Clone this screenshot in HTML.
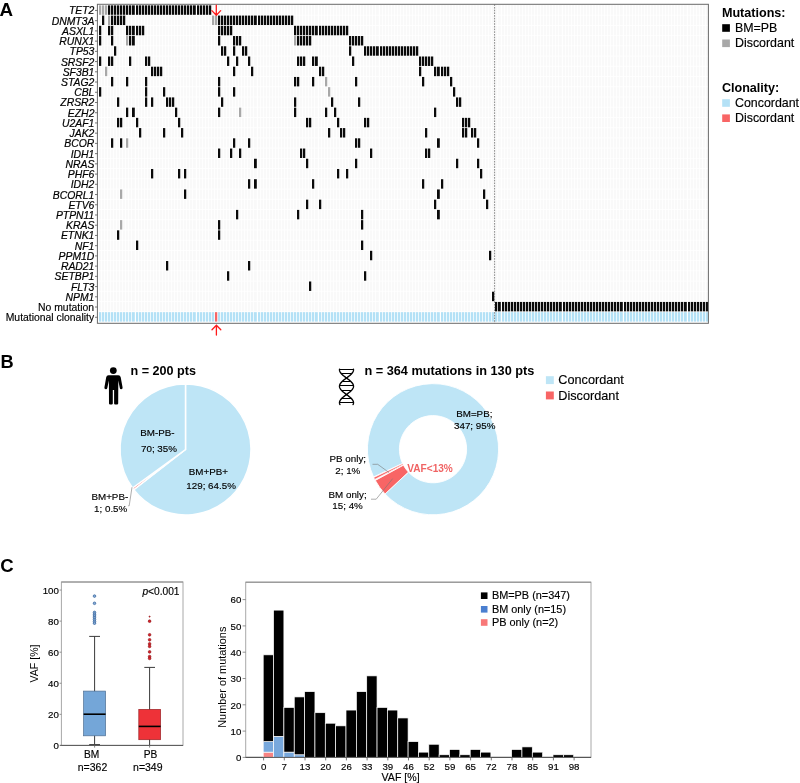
<!DOCTYPE html>
<html><head><meta charset="utf-8"><title>Figure</title>
<style>
html,body{margin:0;padding:0;background:#fff;}
svg{display:block;}
text{font-family:"Liberation Sans", Arial, Helvetica, sans-serif;}
</style></head>
<body>
<svg width="800" height="783" viewBox="0 0 800 783" font-family='"Liberation Sans", Arial, Helvetica, sans-serif' fill="#000">
<rect width="800" height="783" fill="#fff"/>
<text x="-0.4" y="15.7" font-size="18.8" font-weight="bold">A</text>
<g fill="#f9f9f9">
</g>
<rect x="97.4" y="4.3" width="611" height="319" fill="#ffffff"/>
<g fill="#f9f9f9">
<rect x="99" y="4.8" width="2.25" height="307.36"/>
<rect x="102" y="4.8" width="2.25" height="307.36"/>
<rect x="105" y="4.8" width="2.25" height="307.36"/>
<rect x="108" y="4.8" width="2.25" height="307.36"/>
<rect x="111" y="4.8" width="2.25" height="307.36"/>
<rect x="114" y="4.8" width="2.25" height="307.36"/>
<rect x="117" y="4.8" width="2.25" height="307.36"/>
<rect x="120" y="4.8" width="2.25" height="307.36"/>
<rect x="123" y="4.8" width="2.25" height="307.36"/>
<rect x="126" y="4.8" width="2.25" height="307.36"/>
<rect x="129" y="4.8" width="2.25" height="307.36"/>
<rect x="132" y="4.8" width="2.8" height="307.36"/>
<rect x="136" y="4.8" width="2.25" height="307.36"/>
<rect x="139" y="4.8" width="2.25" height="307.36"/>
<rect x="142" y="4.8" width="2.25" height="307.36"/>
<rect x="145" y="4.8" width="2.25" height="307.36"/>
<rect x="148" y="4.8" width="2.25" height="307.36"/>
<rect x="151" y="4.8" width="2.25" height="307.36"/>
<rect x="154" y="4.8" width="2.25" height="307.36"/>
<rect x="157" y="4.8" width="2.25" height="307.36"/>
<rect x="160" y="4.8" width="2.25" height="307.36"/>
<rect x="163" y="4.8" width="2.25" height="307.36"/>
<rect x="166" y="4.8" width="2.25" height="307.36"/>
<rect x="169" y="4.8" width="2.25" height="307.36"/>
<rect x="172" y="4.8" width="2.25" height="307.36"/>
<rect x="175" y="4.8" width="2.25" height="307.36"/>
<rect x="178" y="4.8" width="2.25" height="307.36"/>
<rect x="181" y="4.8" width="2.25" height="307.36"/>
<rect x="184" y="4.8" width="2.25" height="307.36"/>
<rect x="187" y="4.8" width="2.25" height="307.36"/>
<rect x="190" y="4.8" width="2.25" height="307.36"/>
<rect x="193" y="4.8" width="2.8" height="307.36"/>
<rect x="197" y="4.8" width="2.25" height="307.36"/>
<rect x="200" y="4.8" width="2.25" height="307.36"/>
<rect x="203" y="4.8" width="2.25" height="307.36"/>
<rect x="206" y="4.8" width="2.25" height="307.36"/>
<rect x="209" y="4.8" width="2.25" height="307.36"/>
<rect x="212" y="4.8" width="2.25" height="307.36"/>
<rect x="215" y="4.8" width="2.25" height="307.36"/>
<rect x="218" y="4.8" width="2.25" height="307.36"/>
<rect x="221" y="4.8" width="2.25" height="307.36"/>
<rect x="224" y="4.8" width="2.25" height="307.36"/>
<rect x="227" y="4.8" width="2.25" height="307.36"/>
<rect x="230" y="4.8" width="2.25" height="307.36"/>
<rect x="233" y="4.8" width="2.25" height="307.36"/>
<rect x="236" y="4.8" width="2.25" height="307.36"/>
<rect x="239" y="4.8" width="2.25" height="307.36"/>
<rect x="242" y="4.8" width="2.25" height="307.36"/>
<rect x="245" y="4.8" width="2.25" height="307.36"/>
<rect x="248" y="4.8" width="2.25" height="307.36"/>
<rect x="251" y="4.8" width="2.25" height="307.36"/>
<rect x="254" y="4.8" width="2.8" height="307.36"/>
<rect x="258" y="4.8" width="2.25" height="307.36"/>
<rect x="261" y="4.8" width="2.25" height="307.36"/>
<rect x="264" y="4.8" width="2.25" height="307.36"/>
<rect x="267" y="4.8" width="2.25" height="307.36"/>
<rect x="270" y="4.8" width="2.25" height="307.36"/>
<rect x="273" y="4.8" width="2.25" height="307.36"/>
<rect x="276" y="4.8" width="2.25" height="307.36"/>
<rect x="279" y="4.8" width="2.25" height="307.36"/>
<rect x="282" y="4.8" width="2.25" height="307.36"/>
<rect x="285" y="4.8" width="2.25" height="307.36"/>
<rect x="288" y="4.8" width="2.25" height="307.36"/>
<rect x="291" y="4.8" width="2.25" height="307.36"/>
<rect x="294" y="4.8" width="2.25" height="307.36"/>
<rect x="297" y="4.8" width="2.25" height="307.36"/>
<rect x="300" y="4.8" width="2.25" height="307.36"/>
<rect x="303" y="4.8" width="2.25" height="307.36"/>
<rect x="306" y="4.8" width="2.25" height="307.36"/>
<rect x="309" y="4.8" width="2.25" height="307.36"/>
<rect x="312" y="4.8" width="2.25" height="307.36"/>
<rect x="315" y="4.8" width="2.8" height="307.36"/>
<rect x="319" y="4.8" width="2.25" height="307.36"/>
<rect x="322" y="4.8" width="2.25" height="307.36"/>
<rect x="325" y="4.8" width="2.25" height="307.36"/>
<rect x="328" y="4.8" width="2.25" height="307.36"/>
<rect x="331" y="4.8" width="2.25" height="307.36"/>
<rect x="334" y="4.8" width="2.25" height="307.36"/>
<rect x="337" y="4.8" width="2.25" height="307.36"/>
<rect x="340" y="4.8" width="2.25" height="307.36"/>
<rect x="343" y="4.8" width="2.25" height="307.36"/>
<rect x="346" y="4.8" width="2.25" height="307.36"/>
<rect x="349" y="4.8" width="2.25" height="307.36"/>
<rect x="352" y="4.8" width="2.25" height="307.36"/>
<rect x="355" y="4.8" width="2.25" height="307.36"/>
<rect x="358" y="4.8" width="2.25" height="307.36"/>
<rect x="361" y="4.8" width="2.25" height="307.36"/>
<rect x="364" y="4.8" width="2.25" height="307.36"/>
<rect x="367" y="4.8" width="2.25" height="307.36"/>
<rect x="370" y="4.8" width="2.25" height="307.36"/>
<rect x="373" y="4.8" width="2.25" height="307.36"/>
<rect x="376" y="4.8" width="2.8" height="307.36"/>
<rect x="380" y="4.8" width="2.25" height="307.36"/>
<rect x="383" y="4.8" width="2.25" height="307.36"/>
<rect x="386" y="4.8" width="2.25" height="307.36"/>
<rect x="389" y="4.8" width="2.25" height="307.36"/>
<rect x="392" y="4.8" width="2.25" height="307.36"/>
<rect x="395" y="4.8" width="2.25" height="307.36"/>
<rect x="398" y="4.8" width="2.25" height="307.36"/>
<rect x="401" y="4.8" width="2.25" height="307.36"/>
<rect x="404" y="4.8" width="2.25" height="307.36"/>
<rect x="407" y="4.8" width="2.25" height="307.36"/>
<rect x="410" y="4.8" width="2.25" height="307.36"/>
<rect x="413" y="4.8" width="2.25" height="307.36"/>
<rect x="416" y="4.8" width="2.25" height="307.36"/>
<rect x="419" y="4.8" width="2.25" height="307.36"/>
<rect x="422" y="4.8" width="2.25" height="307.36"/>
<rect x="425" y="4.8" width="2.25" height="307.36"/>
<rect x="428" y="4.8" width="2.25" height="307.36"/>
<rect x="431" y="4.8" width="2.25" height="307.36"/>
<rect x="434" y="4.8" width="2.25" height="307.36"/>
<rect x="437" y="4.8" width="2.8" height="307.36"/>
<rect x="441" y="4.8" width="2.25" height="307.36"/>
<rect x="444" y="4.8" width="2.25" height="307.36"/>
<rect x="447" y="4.8" width="2.25" height="307.36"/>
<rect x="450" y="4.8" width="2.25" height="307.36"/>
<rect x="453" y="4.8" width="2.25" height="307.36"/>
<rect x="456" y="4.8" width="2.25" height="307.36"/>
<rect x="459" y="4.8" width="2.25" height="307.36"/>
<rect x="462" y="4.8" width="2.25" height="307.36"/>
<rect x="465" y="4.8" width="2.25" height="307.36"/>
<rect x="468" y="4.8" width="2.25" height="307.36"/>
<rect x="471" y="4.8" width="2.25" height="307.36"/>
<rect x="474" y="4.8" width="2.25" height="307.36"/>
<rect x="477" y="4.8" width="2.25" height="307.36"/>
<rect x="480" y="4.8" width="2.25" height="307.36"/>
<rect x="483" y="4.8" width="2.25" height="307.36"/>
<rect x="486" y="4.8" width="2.25" height="307.36"/>
<rect x="489" y="4.8" width="2.25" height="307.36"/>
<rect x="492" y="4.8" width="2.25" height="307.36"/>
<rect x="495" y="4.8" width="2.25" height="307.36"/>
<rect x="498" y="4.8" width="2.8" height="307.36"/>
<rect x="502" y="4.8" width="2.25" height="307.36"/>
<rect x="505" y="4.8" width="2.25" height="307.36"/>
<rect x="508" y="4.8" width="2.25" height="307.36"/>
<rect x="511" y="4.8" width="2.25" height="307.36"/>
<rect x="514" y="4.8" width="2.25" height="307.36"/>
<rect x="517" y="4.8" width="2.25" height="307.36"/>
<rect x="520" y="4.8" width="2.25" height="307.36"/>
<rect x="523" y="4.8" width="2.25" height="307.36"/>
<rect x="526" y="4.8" width="2.25" height="307.36"/>
<rect x="529" y="4.8" width="2.25" height="307.36"/>
<rect x="532" y="4.8" width="2.25" height="307.36"/>
<rect x="535" y="4.8" width="2.25" height="307.36"/>
<rect x="538" y="4.8" width="2.25" height="307.36"/>
<rect x="541" y="4.8" width="2.25" height="307.36"/>
<rect x="544" y="4.8" width="2.25" height="307.36"/>
<rect x="547" y="4.8" width="2.25" height="307.36"/>
<rect x="550" y="4.8" width="2.25" height="307.36"/>
<rect x="553" y="4.8" width="2.25" height="307.36"/>
<rect x="556" y="4.8" width="2.25" height="307.36"/>
<rect x="559" y="4.8" width="2.8" height="307.36"/>
<rect x="563" y="4.8" width="2.25" height="307.36"/>
<rect x="566" y="4.8" width="2.25" height="307.36"/>
<rect x="569" y="4.8" width="2.25" height="307.36"/>
<rect x="572" y="4.8" width="2.25" height="307.36"/>
<rect x="575" y="4.8" width="2.25" height="307.36"/>
<rect x="578" y="4.8" width="2.25" height="307.36"/>
<rect x="581" y="4.8" width="2.25" height="307.36"/>
<rect x="584" y="4.8" width="2.25" height="307.36"/>
<rect x="587" y="4.8" width="2.25" height="307.36"/>
<rect x="590" y="4.8" width="2.25" height="307.36"/>
<rect x="593" y="4.8" width="2.25" height="307.36"/>
<rect x="596" y="4.8" width="2.25" height="307.36"/>
<rect x="599" y="4.8" width="2.25" height="307.36"/>
<rect x="602" y="4.8" width="2.25" height="307.36"/>
<rect x="605" y="4.8" width="2.25" height="307.36"/>
<rect x="608" y="4.8" width="2.25" height="307.36"/>
<rect x="611" y="4.8" width="2.25" height="307.36"/>
<rect x="614" y="4.8" width="2.25" height="307.36"/>
<rect x="617" y="4.8" width="2.25" height="307.36"/>
<rect x="620" y="4.8" width="2.8" height="307.36"/>
<rect x="624" y="4.8" width="2.25" height="307.36"/>
<rect x="627" y="4.8" width="2.25" height="307.36"/>
<rect x="630" y="4.8" width="2.25" height="307.36"/>
<rect x="633" y="4.8" width="2.25" height="307.36"/>
<rect x="636" y="4.8" width="2.25" height="307.36"/>
<rect x="639" y="4.8" width="2.25" height="307.36"/>
<rect x="642" y="4.8" width="2.25" height="307.36"/>
<rect x="645" y="4.8" width="2.25" height="307.36"/>
<rect x="648" y="4.8" width="2.25" height="307.36"/>
<rect x="651" y="4.8" width="2.25" height="307.36"/>
<rect x="654" y="4.8" width="2.25" height="307.36"/>
<rect x="657" y="4.8" width="2.25" height="307.36"/>
<rect x="660" y="4.8" width="2.25" height="307.36"/>
<rect x="663" y="4.8" width="2.25" height="307.36"/>
<rect x="666" y="4.8" width="2.25" height="307.36"/>
<rect x="669" y="4.8" width="2.25" height="307.36"/>
<rect x="672" y="4.8" width="2.25" height="307.36"/>
<rect x="675" y="4.8" width="2.25" height="307.36"/>
<rect x="678" y="4.8" width="2.25" height="307.36"/>
<rect x="681" y="4.8" width="2.25" height="307.36"/>
<rect x="684" y="4.8" width="2.8" height="307.36"/>
<rect x="688" y="4.8" width="2.25" height="307.36"/>
<rect x="691" y="4.8" width="2.25" height="307.36"/>
<rect x="694" y="4.8" width="2.25" height="307.36"/>
<rect x="697" y="4.8" width="2.25" height="307.36"/>
<rect x="700" y="4.8" width="2.25" height="307.36"/>
<rect x="703" y="4.8" width="2.25" height="307.36"/>
<rect x="706" y="4.8" width="2.25" height="307.36"/>
</g>
<g stroke="#fff" stroke-width="0.8">
<line x1="97.4" y1="15.19" x2="708.4" y2="15.19"/>
<line x1="97.4" y1="25.42" x2="708.4" y2="25.42"/>
<line x1="97.4" y1="35.64" x2="708.4" y2="35.64"/>
<line x1="97.4" y1="45.87" x2="708.4" y2="45.87"/>
<line x1="97.4" y1="56.1" x2="708.4" y2="56.1"/>
<line x1="97.4" y1="66.32" x2="708.4" y2="66.32"/>
<line x1="97.4" y1="76.55" x2="708.4" y2="76.55"/>
<line x1="97.4" y1="86.78" x2="708.4" y2="86.78"/>
<line x1="97.4" y1="97" x2="708.4" y2="97"/>
<line x1="97.4" y1="107.23" x2="708.4" y2="107.23"/>
<line x1="97.4" y1="117.46" x2="708.4" y2="117.46"/>
<line x1="97.4" y1="127.69" x2="708.4" y2="127.69"/>
<line x1="97.4" y1="137.91" x2="708.4" y2="137.91"/>
<line x1="97.4" y1="148.14" x2="708.4" y2="148.14"/>
<line x1="97.4" y1="158.37" x2="708.4" y2="158.37"/>
<line x1="97.4" y1="168.59" x2="708.4" y2="168.59"/>
<line x1="97.4" y1="178.82" x2="708.4" y2="178.82"/>
<line x1="97.4" y1="189.05" x2="708.4" y2="189.05"/>
<line x1="97.4" y1="199.27" x2="708.4" y2="199.27"/>
<line x1="97.4" y1="209.5" x2="708.4" y2="209.5"/>
<line x1="97.4" y1="219.73" x2="708.4" y2="219.73"/>
<line x1="97.4" y1="229.96" x2="708.4" y2="229.96"/>
<line x1="97.4" y1="240.18" x2="708.4" y2="240.18"/>
<line x1="97.4" y1="250.41" x2="708.4" y2="250.41"/>
<line x1="97.4" y1="260.64" x2="708.4" y2="260.64"/>
<line x1="97.4" y1="270.86" x2="708.4" y2="270.86"/>
<line x1="97.4" y1="281.09" x2="708.4" y2="281.09"/>
<line x1="97.4" y1="291.32" x2="708.4" y2="291.32"/>
<line x1="97.4" y1="301.54" x2="708.4" y2="301.54"/>
<line x1="97.4" y1="311.77" x2="708.4" y2="311.77"/>
</g>
<g fill="#a8a8a8">
<rect x="99" y="5.35" width="2.25" height="9.45"/>
<rect x="102" y="5.35" width="2.25" height="9.45"/>
<rect x="105" y="5.35" width="2.25" height="9.45"/>
</g>
<g fill="#0a0a0a">
<rect x="108" y="5.35" width="2.25" height="9.45"/>
<rect x="111" y="5.35" width="2.25" height="9.45"/>
<rect x="114" y="5.35" width="2.25" height="9.45"/>
<rect x="117" y="5.35" width="2.25" height="9.45"/>
<rect x="120" y="5.35" width="2.25" height="9.45"/>
<rect x="123" y="5.35" width="2.25" height="9.45"/>
<rect x="126" y="5.35" width="2.25" height="9.45"/>
<rect x="129" y="5.35" width="2.25" height="9.45"/>
<rect x="132" y="5.35" width="2.8" height="9.45"/>
<rect x="136" y="5.35" width="2.25" height="9.45"/>
<rect x="139" y="5.35" width="2.25" height="9.45"/>
<rect x="142" y="5.35" width="2.25" height="9.45"/>
<rect x="145" y="5.35" width="2.25" height="9.45"/>
<rect x="148" y="5.35" width="2.25" height="9.45"/>
<rect x="151" y="5.35" width="2.25" height="9.45"/>
<rect x="154" y="5.35" width="2.25" height="9.45"/>
<rect x="157" y="5.35" width="2.25" height="9.45"/>
<rect x="160" y="5.35" width="2.25" height="9.45"/>
<rect x="163" y="5.35" width="2.25" height="9.45"/>
<rect x="166" y="5.35" width="2.25" height="9.45"/>
<rect x="169" y="5.35" width="2.25" height="9.45"/>
<rect x="172" y="5.35" width="2.25" height="9.45"/>
<rect x="175" y="5.35" width="2.25" height="9.45"/>
<rect x="178" y="5.35" width="2.25" height="9.45"/>
<rect x="181" y="5.35" width="2.25" height="9.45"/>
<rect x="184" y="5.35" width="2.25" height="9.45"/>
<rect x="187" y="5.35" width="2.25" height="9.45"/>
<rect x="190" y="5.35" width="2.25" height="9.45"/>
<rect x="193" y="5.35" width="2.8" height="9.45"/>
<rect x="197" y="5.35" width="2.25" height="9.45"/>
<rect x="200" y="5.35" width="2.25" height="9.45"/>
<rect x="203" y="5.35" width="2.25" height="9.45"/>
<rect x="206" y="5.35" width="2.25" height="9.45"/>
<rect x="209" y="5.35" width="2.25" height="9.45"/>
</g>
<g fill="#a8a8a8">
<rect x="108" y="15.58" width="2.25" height="9.45"/>
<rect x="212" y="15.58" width="2.25" height="9.45"/>
<rect x="215" y="15.58" width="2.25" height="9.45"/>
</g>
<g fill="#0a0a0a">
<rect x="102" y="15.58" width="2.25" height="9.45"/>
<rect x="111" y="15.58" width="2.25" height="9.45"/>
<rect x="114" y="15.58" width="2.25" height="9.45"/>
<rect x="117" y="15.58" width="2.25" height="9.45"/>
<rect x="120" y="15.58" width="2.25" height="9.45"/>
<rect x="123" y="15.58" width="2.25" height="9.45"/>
<rect x="218" y="15.58" width="2.25" height="9.45"/>
<rect x="221" y="15.58" width="2.25" height="9.45"/>
<rect x="224" y="15.58" width="2.25" height="9.45"/>
<rect x="227" y="15.58" width="2.25" height="9.45"/>
<rect x="230" y="15.58" width="2.25" height="9.45"/>
<rect x="233" y="15.58" width="2.25" height="9.45"/>
<rect x="236" y="15.58" width="2.25" height="9.45"/>
<rect x="239" y="15.58" width="2.25" height="9.45"/>
<rect x="242" y="15.58" width="2.25" height="9.45"/>
<rect x="245" y="15.58" width="2.25" height="9.45"/>
<rect x="248" y="15.58" width="2.25" height="9.45"/>
<rect x="251" y="15.58" width="2.25" height="9.45"/>
<rect x="254" y="15.58" width="2.8" height="9.45"/>
<rect x="258" y="15.58" width="2.25" height="9.45"/>
<rect x="261" y="15.58" width="2.25" height="9.45"/>
<rect x="264" y="15.58" width="2.25" height="9.45"/>
<rect x="267" y="15.58" width="2.25" height="9.45"/>
<rect x="270" y="15.58" width="2.25" height="9.45"/>
<rect x="273" y="15.58" width="2.25" height="9.45"/>
<rect x="276" y="15.58" width="2.25" height="9.45"/>
<rect x="279" y="15.58" width="2.25" height="9.45"/>
<rect x="282" y="15.58" width="2.25" height="9.45"/>
<rect x="285" y="15.58" width="2.25" height="9.45"/>
<rect x="288" y="15.58" width="2.25" height="9.45"/>
<rect x="291" y="15.58" width="2.25" height="9.45"/>
</g>
<g fill="#0a0a0a">
<rect x="99" y="25.8" width="2.25" height="9.45"/>
<rect x="108" y="25.8" width="2.25" height="9.45"/>
<rect x="111" y="25.8" width="2.25" height="9.45"/>
<rect x="126" y="25.8" width="2.25" height="9.45"/>
<rect x="129" y="25.8" width="2.25" height="9.45"/>
<rect x="132" y="25.8" width="2.8" height="9.45"/>
<rect x="136" y="25.8" width="2.25" height="9.45"/>
<rect x="139" y="25.8" width="2.25" height="9.45"/>
<rect x="142" y="25.8" width="2.25" height="9.45"/>
<rect x="218" y="25.8" width="2.25" height="9.45"/>
<rect x="221" y="25.8" width="2.25" height="9.45"/>
<rect x="224" y="25.8" width="2.25" height="9.45"/>
<rect x="227" y="25.8" width="2.25" height="9.45"/>
<rect x="230" y="25.8" width="2.25" height="9.45"/>
<rect x="294" y="25.8" width="2.25" height="9.45"/>
<rect x="297" y="25.8" width="2.25" height="9.45"/>
<rect x="300" y="25.8" width="2.25" height="9.45"/>
<rect x="303" y="25.8" width="2.25" height="9.45"/>
<rect x="306" y="25.8" width="2.25" height="9.45"/>
<rect x="309" y="25.8" width="2.25" height="9.45"/>
<rect x="312" y="25.8" width="2.25" height="9.45"/>
<rect x="315" y="25.8" width="2.8" height="9.45"/>
<rect x="319" y="25.8" width="2.25" height="9.45"/>
<rect x="322" y="25.8" width="2.25" height="9.45"/>
<rect x="325" y="25.8" width="2.25" height="9.45"/>
<rect x="328" y="25.8" width="2.25" height="9.45"/>
<rect x="331" y="25.8" width="2.25" height="9.45"/>
<rect x="334" y="25.8" width="2.25" height="9.45"/>
<rect x="337" y="25.8" width="2.25" height="9.45"/>
<rect x="340" y="25.8" width="2.25" height="9.45"/>
<rect x="343" y="25.8" width="2.25" height="9.45"/>
<rect x="346" y="25.8" width="2.25" height="9.45"/>
</g>
<g fill="#a8a8a8">
<rect x="126" y="36.03" width="2.25" height="9.45"/>
<rect x="294" y="36.03" width="2.25" height="9.45"/>
</g>
<g fill="#0a0a0a">
<rect x="99" y="36.03" width="2.25" height="9.45"/>
<rect x="111" y="36.03" width="2.25" height="9.45"/>
<rect x="129" y="36.03" width="2.25" height="9.45"/>
<rect x="132" y="36.03" width="2.8" height="9.45"/>
<rect x="218" y="36.03" width="2.25" height="9.45"/>
<rect x="233" y="36.03" width="2.25" height="9.45"/>
<rect x="236" y="36.03" width="2.25" height="9.45"/>
<rect x="239" y="36.03" width="2.25" height="9.45"/>
<rect x="297" y="36.03" width="2.25" height="9.45"/>
<rect x="300" y="36.03" width="2.25" height="9.45"/>
<rect x="303" y="36.03" width="2.25" height="9.45"/>
<rect x="306" y="36.03" width="2.25" height="9.45"/>
<rect x="309" y="36.03" width="2.25" height="9.45"/>
<rect x="349" y="36.03" width="2.25" height="9.45"/>
<rect x="352" y="36.03" width="2.25" height="9.45"/>
<rect x="355" y="36.03" width="2.25" height="9.45"/>
<rect x="358" y="36.03" width="2.25" height="9.45"/>
<rect x="361" y="36.03" width="2.25" height="9.45"/>
</g>
<g fill="#0a0a0a">
<rect x="114" y="46.26" width="2.25" height="9.45"/>
<rect x="221" y="46.26" width="2.25" height="9.45"/>
<rect x="224" y="46.26" width="2.25" height="9.45"/>
<rect x="233" y="46.26" width="2.25" height="9.45"/>
<rect x="242" y="46.26" width="2.25" height="9.45"/>
<rect x="245" y="46.26" width="2.25" height="9.45"/>
<rect x="349" y="46.26" width="2.25" height="9.45"/>
<rect x="364" y="46.26" width="2.25" height="9.45"/>
<rect x="367" y="46.26" width="2.25" height="9.45"/>
<rect x="370" y="46.26" width="2.25" height="9.45"/>
<rect x="373" y="46.26" width="2.25" height="9.45"/>
<rect x="376" y="46.26" width="2.8" height="9.45"/>
<rect x="380" y="46.26" width="2.25" height="9.45"/>
<rect x="383" y="46.26" width="2.25" height="9.45"/>
<rect x="386" y="46.26" width="2.25" height="9.45"/>
<rect x="389" y="46.26" width="2.25" height="9.45"/>
<rect x="392" y="46.26" width="2.25" height="9.45"/>
<rect x="395" y="46.26" width="2.25" height="9.45"/>
<rect x="398" y="46.26" width="2.25" height="9.45"/>
<rect x="401" y="46.26" width="2.25" height="9.45"/>
<rect x="404" y="46.26" width="2.25" height="9.45"/>
<rect x="407" y="46.26" width="2.25" height="9.45"/>
<rect x="410" y="46.26" width="2.25" height="9.45"/>
<rect x="413" y="46.26" width="2.25" height="9.45"/>
<rect x="416" y="46.26" width="2.25" height="9.45"/>
</g>
<g fill="#0a0a0a">
<rect x="99" y="56.49" width="2.25" height="9.45"/>
<rect x="108" y="56.49" width="2.25" height="9.45"/>
<rect x="111" y="56.49" width="2.25" height="9.45"/>
<rect x="129" y="56.49" width="2.25" height="9.45"/>
<rect x="145" y="56.49" width="2.25" height="9.45"/>
<rect x="148" y="56.49" width="2.25" height="9.45"/>
<rect x="227" y="56.49" width="2.25" height="9.45"/>
<rect x="236" y="56.49" width="2.25" height="9.45"/>
<rect x="248" y="56.49" width="2.25" height="9.45"/>
<rect x="297" y="56.49" width="2.25" height="9.45"/>
<rect x="300" y="56.49" width="2.25" height="9.45"/>
<rect x="303" y="56.49" width="2.25" height="9.45"/>
<rect x="312" y="56.49" width="2.25" height="9.45"/>
<rect x="315" y="56.49" width="2.8" height="9.45"/>
<rect x="352" y="56.49" width="2.25" height="9.45"/>
<rect x="419" y="56.49" width="2.25" height="9.45"/>
<rect x="422" y="56.49" width="2.25" height="9.45"/>
<rect x="425" y="56.49" width="2.25" height="9.45"/>
<rect x="428" y="56.49" width="2.25" height="9.45"/>
<rect x="431" y="56.49" width="2.25" height="9.45"/>
</g>
<g fill="#a8a8a8">
<rect x="105" y="66.71" width="2.25" height="9.45"/>
</g>
<g fill="#0a0a0a">
<rect x="151" y="66.71" width="2.25" height="9.45"/>
<rect x="154" y="66.71" width="2.25" height="9.45"/>
<rect x="157" y="66.71" width="2.25" height="9.45"/>
<rect x="160" y="66.71" width="2.25" height="9.45"/>
<rect x="233" y="66.71" width="2.25" height="9.45"/>
<rect x="251" y="66.71" width="2.25" height="9.45"/>
<rect x="319" y="66.71" width="2.25" height="9.45"/>
<rect x="322" y="66.71" width="2.25" height="9.45"/>
<rect x="419" y="66.71" width="2.25" height="9.45"/>
<rect x="434" y="66.71" width="2.25" height="9.45"/>
<rect x="437" y="66.71" width="2.8" height="9.45"/>
<rect x="441" y="66.71" width="2.25" height="9.45"/>
<rect x="444" y="66.71" width="2.25" height="9.45"/>
<rect x="447" y="66.71" width="2.25" height="9.45"/>
</g>
<g fill="#a8a8a8">
<rect x="325" y="76.94" width="2.25" height="9.45"/>
</g>
<g fill="#0a0a0a">
<rect x="111" y="76.94" width="2.25" height="9.45"/>
<rect x="126" y="76.94" width="2.25" height="9.45"/>
<rect x="145" y="76.94" width="2.25" height="9.45"/>
<rect x="218" y="76.94" width="2.25" height="9.45"/>
<rect x="294" y="76.94" width="2.25" height="9.45"/>
<rect x="297" y="76.94" width="2.25" height="9.45"/>
<rect x="312" y="76.94" width="2.25" height="9.45"/>
<rect x="355" y="76.94" width="2.25" height="9.45"/>
<rect x="422" y="76.94" width="2.25" height="9.45"/>
<rect x="450" y="76.94" width="2.25" height="9.45"/>
</g>
<g fill="#a8a8a8">
<rect x="328" y="87.17" width="2.25" height="9.45"/>
</g>
<g fill="#0a0a0a">
<rect x="99" y="87.17" width="2.25" height="9.45"/>
<rect x="145" y="87.17" width="2.25" height="9.45"/>
<rect x="163" y="87.17" width="2.25" height="9.45"/>
<rect x="218" y="87.17" width="2.25" height="9.45"/>
<rect x="233" y="87.17" width="2.25" height="9.45"/>
<rect x="453" y="87.17" width="2.25" height="9.45"/>
</g>
<g fill="#0a0a0a">
<rect x="117" y="97.39" width="2.25" height="9.45"/>
<rect x="145" y="97.39" width="2.25" height="9.45"/>
<rect x="151" y="97.39" width="2.25" height="9.45"/>
<rect x="166" y="97.39" width="2.25" height="9.45"/>
<rect x="169" y="97.39" width="2.25" height="9.45"/>
<rect x="172" y="97.39" width="2.25" height="9.45"/>
<rect x="221" y="97.39" width="2.25" height="9.45"/>
<rect x="294" y="97.39" width="2.25" height="9.45"/>
<rect x="331" y="97.39" width="2.25" height="9.45"/>
<rect x="358" y="97.39" width="2.25" height="9.45"/>
<rect x="456" y="97.39" width="2.25" height="9.45"/>
<rect x="459" y="97.39" width="2.25" height="9.45"/>
</g>
<g fill="#a8a8a8">
<rect x="239" y="107.62" width="2.25" height="9.45"/>
</g>
<g fill="#0a0a0a">
<rect x="126" y="107.62" width="2.25" height="9.45"/>
<rect x="132" y="107.62" width="2.8" height="9.45"/>
<rect x="175" y="107.62" width="2.25" height="9.45"/>
<rect x="218" y="107.62" width="2.25" height="9.45"/>
<rect x="294" y="107.62" width="2.25" height="9.45"/>
<rect x="325" y="107.62" width="2.25" height="9.45"/>
<rect x="334" y="107.62" width="2.25" height="9.45"/>
<rect x="434" y="107.62" width="2.25" height="9.45"/>
</g>
<g fill="#0a0a0a">
<rect x="117" y="117.85" width="2.25" height="9.45"/>
<rect x="120" y="117.85" width="2.25" height="9.45"/>
<rect x="136" y="117.85" width="2.25" height="9.45"/>
<rect x="178" y="117.85" width="2.25" height="9.45"/>
<rect x="306" y="117.85" width="2.25" height="9.45"/>
<rect x="309" y="117.85" width="2.25" height="9.45"/>
<rect x="337" y="117.85" width="2.25" height="9.45"/>
<rect x="364" y="117.85" width="2.25" height="9.45"/>
<rect x="367" y="117.85" width="2.25" height="9.45"/>
<rect x="462" y="117.85" width="2.25" height="9.45"/>
<rect x="465" y="117.85" width="2.25" height="9.45"/>
<rect x="468" y="117.85" width="2.25" height="9.45"/>
</g>
<g fill="#0a0a0a">
<rect x="139" y="128.07" width="2.25" height="9.45"/>
<rect x="163" y="128.07" width="2.25" height="9.45"/>
<rect x="181" y="128.07" width="2.25" height="9.45"/>
<rect x="328" y="128.07" width="2.25" height="9.45"/>
<rect x="340" y="128.07" width="2.25" height="9.45"/>
<rect x="343" y="128.07" width="2.25" height="9.45"/>
<rect x="425" y="128.07" width="2.25" height="9.45"/>
<rect x="462" y="128.07" width="2.25" height="9.45"/>
<rect x="465" y="128.07" width="2.25" height="9.45"/>
<rect x="471" y="128.07" width="2.25" height="9.45"/>
<rect x="474" y="128.07" width="2.25" height="9.45"/>
</g>
<g fill="#a8a8a8">
<rect x="126" y="138.3" width="2.25" height="9.45"/>
</g>
<g fill="#0a0a0a">
<rect x="111" y="138.3" width="2.25" height="9.45"/>
<rect x="120" y="138.3" width="2.25" height="9.45"/>
<rect x="233" y="138.3" width="2.25" height="9.45"/>
<rect x="248" y="138.3" width="2.25" height="9.45"/>
<rect x="355" y="138.3" width="2.25" height="9.45"/>
<rect x="358" y="138.3" width="2.25" height="9.45"/>
<rect x="437" y="138.3" width="2.8" height="9.45"/>
<rect x="477" y="138.3" width="2.25" height="9.45"/>
</g>
<g fill="#0a0a0a">
<rect x="218" y="148.53" width="2.25" height="9.45"/>
<rect x="230" y="148.53" width="2.25" height="9.45"/>
<rect x="239" y="148.53" width="2.25" height="9.45"/>
<rect x="300" y="148.53" width="2.25" height="9.45"/>
<rect x="303" y="148.53" width="2.25" height="9.45"/>
<rect x="370" y="148.53" width="2.25" height="9.45"/>
<rect x="425" y="148.53" width="2.25" height="9.45"/>
<rect x="428" y="148.53" width="2.25" height="9.45"/>
</g>
<g fill="#0a0a0a">
<rect x="254" y="158.75" width="2.8" height="9.45"/>
<rect x="306" y="158.75" width="2.25" height="9.45"/>
<rect x="355" y="158.75" width="2.25" height="9.45"/>
<rect x="456" y="158.75" width="2.25" height="9.45"/>
<rect x="477" y="158.75" width="2.25" height="9.45"/>
</g>
<g fill="#0a0a0a">
<rect x="151" y="168.98" width="2.25" height="9.45"/>
<rect x="178" y="168.98" width="2.25" height="9.45"/>
<rect x="184" y="168.98" width="2.25" height="9.45"/>
<rect x="337" y="168.98" width="2.25" height="9.45"/>
<rect x="346" y="168.98" width="2.25" height="9.45"/>
<rect x="480" y="168.98" width="2.25" height="9.45"/>
</g>
<g fill="#0a0a0a">
<rect x="248" y="179.21" width="2.25" height="9.45"/>
<rect x="254" y="179.21" width="2.8" height="9.45"/>
<rect x="312" y="179.21" width="2.25" height="9.45"/>
<rect x="422" y="179.21" width="2.25" height="9.45"/>
<rect x="441" y="179.21" width="2.25" height="9.45"/>
</g>
<g fill="#a8a8a8">
<rect x="120" y="189.44" width="2.25" height="9.45"/>
</g>
<g fill="#0a0a0a">
<rect x="184" y="189.44" width="2.25" height="9.45"/>
<rect x="437" y="189.44" width="2.8" height="9.45"/>
<rect x="483" y="189.44" width="2.25" height="9.45"/>
</g>
<g fill="#0a0a0a">
<rect x="306" y="199.66" width="2.25" height="9.45"/>
<rect x="319" y="199.66" width="2.25" height="9.45"/>
<rect x="434" y="199.66" width="2.25" height="9.45"/>
<rect x="486" y="199.66" width="2.25" height="9.45"/>
</g>
<g fill="#0a0a0a">
<rect x="236" y="209.89" width="2.25" height="9.45"/>
<rect x="297" y="209.89" width="2.25" height="9.45"/>
<rect x="361" y="209.89" width="2.25" height="9.45"/>
<rect x="437" y="209.89" width="2.8" height="9.45"/>
</g>
<g fill="#a8a8a8">
<rect x="120" y="220.12" width="2.25" height="9.45"/>
</g>
<g fill="#0a0a0a">
<rect x="218" y="220.12" width="2.25" height="9.45"/>
<rect x="361" y="220.12" width="2.25" height="9.45"/>
</g>
<g fill="#0a0a0a">
<rect x="117" y="230.34" width="2.25" height="9.45"/>
<rect x="218" y="230.34" width="2.25" height="9.45"/>
</g>
<g fill="#0a0a0a">
<rect x="136" y="240.57" width="2.25" height="9.45"/>
<rect x="361" y="240.57" width="2.25" height="9.45"/>
</g>
<g fill="#0a0a0a">
<rect x="370" y="250.8" width="2.25" height="9.45"/>
<rect x="489" y="250.8" width="2.25" height="9.45"/>
</g>
<g fill="#0a0a0a">
<rect x="166" y="261.03" width="2.25" height="9.45"/>
<rect x="248" y="261.03" width="2.25" height="9.45"/>
</g>
<g fill="#0a0a0a">
<rect x="227" y="271.25" width="2.25" height="9.45"/>
<rect x="364" y="271.25" width="2.25" height="9.45"/>
</g>
<g fill="#0a0a0a">
<rect x="309" y="281.48" width="2.25" height="9.45"/>
</g>
<g fill="#0a0a0a">
<rect x="492" y="291.71" width="2.25" height="9.45"/>
</g>
<g fill="#0a0a0a">
<rect x="495" y="301.93" width="2.25" height="9.45"/>
<rect x="498" y="301.93" width="2.8" height="9.45"/>
<rect x="502" y="301.93" width="2.25" height="9.45"/>
<rect x="505" y="301.93" width="2.25" height="9.45"/>
<rect x="508" y="301.93" width="2.25" height="9.45"/>
<rect x="511" y="301.93" width="2.25" height="9.45"/>
<rect x="514" y="301.93" width="2.25" height="9.45"/>
<rect x="517" y="301.93" width="2.25" height="9.45"/>
<rect x="520" y="301.93" width="2.25" height="9.45"/>
<rect x="523" y="301.93" width="2.25" height="9.45"/>
<rect x="526" y="301.93" width="2.25" height="9.45"/>
<rect x="529" y="301.93" width="2.25" height="9.45"/>
<rect x="532" y="301.93" width="2.25" height="9.45"/>
<rect x="535" y="301.93" width="2.25" height="9.45"/>
<rect x="538" y="301.93" width="2.25" height="9.45"/>
<rect x="541" y="301.93" width="2.25" height="9.45"/>
<rect x="544" y="301.93" width="2.25" height="9.45"/>
<rect x="547" y="301.93" width="2.25" height="9.45"/>
<rect x="550" y="301.93" width="2.25" height="9.45"/>
<rect x="553" y="301.93" width="2.25" height="9.45"/>
<rect x="556" y="301.93" width="2.25" height="9.45"/>
<rect x="559" y="301.93" width="2.8" height="9.45"/>
<rect x="563" y="301.93" width="2.25" height="9.45"/>
<rect x="566" y="301.93" width="2.25" height="9.45"/>
<rect x="569" y="301.93" width="2.25" height="9.45"/>
<rect x="572" y="301.93" width="2.25" height="9.45"/>
<rect x="575" y="301.93" width="2.25" height="9.45"/>
<rect x="578" y="301.93" width="2.25" height="9.45"/>
<rect x="581" y="301.93" width="2.25" height="9.45"/>
<rect x="584" y="301.93" width="2.25" height="9.45"/>
<rect x="587" y="301.93" width="2.25" height="9.45"/>
<rect x="590" y="301.93" width="2.25" height="9.45"/>
<rect x="593" y="301.93" width="2.25" height="9.45"/>
<rect x="596" y="301.93" width="2.25" height="9.45"/>
<rect x="599" y="301.93" width="2.25" height="9.45"/>
<rect x="602" y="301.93" width="2.25" height="9.45"/>
<rect x="605" y="301.93" width="2.25" height="9.45"/>
<rect x="608" y="301.93" width="2.25" height="9.45"/>
<rect x="611" y="301.93" width="2.25" height="9.45"/>
<rect x="614" y="301.93" width="2.25" height="9.45"/>
<rect x="617" y="301.93" width="2.25" height="9.45"/>
<rect x="620" y="301.93" width="2.8" height="9.45"/>
<rect x="624" y="301.93" width="2.25" height="9.45"/>
<rect x="627" y="301.93" width="2.25" height="9.45"/>
<rect x="630" y="301.93" width="2.25" height="9.45"/>
<rect x="633" y="301.93" width="2.25" height="9.45"/>
<rect x="636" y="301.93" width="2.25" height="9.45"/>
<rect x="639" y="301.93" width="2.25" height="9.45"/>
<rect x="642" y="301.93" width="2.25" height="9.45"/>
<rect x="645" y="301.93" width="2.25" height="9.45"/>
<rect x="648" y="301.93" width="2.25" height="9.45"/>
<rect x="651" y="301.93" width="2.25" height="9.45"/>
<rect x="654" y="301.93" width="2.25" height="9.45"/>
<rect x="657" y="301.93" width="2.25" height="9.45"/>
<rect x="660" y="301.93" width="2.25" height="9.45"/>
<rect x="663" y="301.93" width="2.25" height="9.45"/>
<rect x="666" y="301.93" width="2.25" height="9.45"/>
<rect x="669" y="301.93" width="2.25" height="9.45"/>
<rect x="672" y="301.93" width="2.25" height="9.45"/>
<rect x="675" y="301.93" width="2.25" height="9.45"/>
<rect x="678" y="301.93" width="2.25" height="9.45"/>
<rect x="681" y="301.93" width="2.25" height="9.45"/>
<rect x="684" y="301.93" width="2.8" height="9.45"/>
<rect x="688" y="301.93" width="2.25" height="9.45"/>
<rect x="691" y="301.93" width="2.25" height="9.45"/>
<rect x="694" y="301.93" width="2.25" height="9.45"/>
<rect x="697" y="301.93" width="2.25" height="9.45"/>
<rect x="700" y="301.93" width="2.25" height="9.45"/>
<rect x="703" y="301.93" width="2.25" height="9.45"/>
<rect x="706" y="301.93" width="2.25" height="9.45"/>
</g>
<g fill="#b4e1f6">
<rect x="99" y="312.16" width="2.25" height="9.45"/>
<rect x="102" y="312.16" width="2.25" height="9.45"/>
<rect x="105" y="312.16" width="2.25" height="9.45"/>
<rect x="108" y="312.16" width="2.25" height="9.45"/>
<rect x="111" y="312.16" width="2.25" height="9.45"/>
<rect x="114" y="312.16" width="2.25" height="9.45"/>
<rect x="117" y="312.16" width="2.25" height="9.45"/>
<rect x="120" y="312.16" width="2.25" height="9.45"/>
<rect x="123" y="312.16" width="2.25" height="9.45"/>
<rect x="126" y="312.16" width="2.25" height="9.45"/>
<rect x="129" y="312.16" width="2.25" height="9.45"/>
<rect x="132" y="312.16" width="2.8" height="9.45"/>
<rect x="136" y="312.16" width="2.25" height="9.45"/>
<rect x="139" y="312.16" width="2.25" height="9.45"/>
<rect x="142" y="312.16" width="2.25" height="9.45"/>
<rect x="145" y="312.16" width="2.25" height="9.45"/>
<rect x="148" y="312.16" width="2.25" height="9.45"/>
<rect x="151" y="312.16" width="2.25" height="9.45"/>
<rect x="154" y="312.16" width="2.25" height="9.45"/>
<rect x="157" y="312.16" width="2.25" height="9.45"/>
<rect x="160" y="312.16" width="2.25" height="9.45"/>
<rect x="163" y="312.16" width="2.25" height="9.45"/>
<rect x="166" y="312.16" width="2.25" height="9.45"/>
<rect x="169" y="312.16" width="2.25" height="9.45"/>
<rect x="172" y="312.16" width="2.25" height="9.45"/>
<rect x="175" y="312.16" width="2.25" height="9.45"/>
<rect x="178" y="312.16" width="2.25" height="9.45"/>
<rect x="181" y="312.16" width="2.25" height="9.45"/>
<rect x="184" y="312.16" width="2.25" height="9.45"/>
<rect x="187" y="312.16" width="2.25" height="9.45"/>
<rect x="190" y="312.16" width="2.25" height="9.45"/>
<rect x="193" y="312.16" width="2.8" height="9.45"/>
<rect x="197" y="312.16" width="2.25" height="9.45"/>
<rect x="200" y="312.16" width="2.25" height="9.45"/>
<rect x="203" y="312.16" width="2.25" height="9.45"/>
<rect x="206" y="312.16" width="2.25" height="9.45"/>
<rect x="209" y="312.16" width="2.25" height="9.45"/>
<rect x="212" y="312.16" width="2.25" height="9.45"/>
<rect x="218" y="312.16" width="2.25" height="9.45"/>
<rect x="221" y="312.16" width="2.25" height="9.45"/>
<rect x="224" y="312.16" width="2.25" height="9.45"/>
<rect x="227" y="312.16" width="2.25" height="9.45"/>
<rect x="230" y="312.16" width="2.25" height="9.45"/>
<rect x="233" y="312.16" width="2.25" height="9.45"/>
<rect x="236" y="312.16" width="2.25" height="9.45"/>
<rect x="239" y="312.16" width="2.25" height="9.45"/>
<rect x="242" y="312.16" width="2.25" height="9.45"/>
<rect x="245" y="312.16" width="2.25" height="9.45"/>
<rect x="248" y="312.16" width="2.25" height="9.45"/>
<rect x="251" y="312.16" width="2.25" height="9.45"/>
<rect x="254" y="312.16" width="2.8" height="9.45"/>
<rect x="258" y="312.16" width="2.25" height="9.45"/>
<rect x="261" y="312.16" width="2.25" height="9.45"/>
<rect x="264" y="312.16" width="2.25" height="9.45"/>
<rect x="267" y="312.16" width="2.25" height="9.45"/>
<rect x="270" y="312.16" width="2.25" height="9.45"/>
<rect x="273" y="312.16" width="2.25" height="9.45"/>
<rect x="276" y="312.16" width="2.25" height="9.45"/>
<rect x="279" y="312.16" width="2.25" height="9.45"/>
<rect x="282" y="312.16" width="2.25" height="9.45"/>
<rect x="285" y="312.16" width="2.25" height="9.45"/>
<rect x="288" y="312.16" width="2.25" height="9.45"/>
<rect x="291" y="312.16" width="2.25" height="9.45"/>
<rect x="294" y="312.16" width="2.25" height="9.45"/>
<rect x="297" y="312.16" width="2.25" height="9.45"/>
<rect x="300" y="312.16" width="2.25" height="9.45"/>
<rect x="303" y="312.16" width="2.25" height="9.45"/>
<rect x="306" y="312.16" width="2.25" height="9.45"/>
<rect x="309" y="312.16" width="2.25" height="9.45"/>
<rect x="312" y="312.16" width="2.25" height="9.45"/>
<rect x="315" y="312.16" width="2.8" height="9.45"/>
<rect x="319" y="312.16" width="2.25" height="9.45"/>
<rect x="322" y="312.16" width="2.25" height="9.45"/>
<rect x="325" y="312.16" width="2.25" height="9.45"/>
<rect x="328" y="312.16" width="2.25" height="9.45"/>
<rect x="331" y="312.16" width="2.25" height="9.45"/>
<rect x="334" y="312.16" width="2.25" height="9.45"/>
<rect x="337" y="312.16" width="2.25" height="9.45"/>
<rect x="340" y="312.16" width="2.25" height="9.45"/>
<rect x="343" y="312.16" width="2.25" height="9.45"/>
<rect x="346" y="312.16" width="2.25" height="9.45"/>
<rect x="349" y="312.16" width="2.25" height="9.45"/>
<rect x="352" y="312.16" width="2.25" height="9.45"/>
<rect x="355" y="312.16" width="2.25" height="9.45"/>
<rect x="358" y="312.16" width="2.25" height="9.45"/>
<rect x="361" y="312.16" width="2.25" height="9.45"/>
<rect x="364" y="312.16" width="2.25" height="9.45"/>
<rect x="367" y="312.16" width="2.25" height="9.45"/>
<rect x="370" y="312.16" width="2.25" height="9.45"/>
<rect x="373" y="312.16" width="2.25" height="9.45"/>
<rect x="376" y="312.16" width="2.8" height="9.45"/>
<rect x="380" y="312.16" width="2.25" height="9.45"/>
<rect x="383" y="312.16" width="2.25" height="9.45"/>
<rect x="386" y="312.16" width="2.25" height="9.45"/>
<rect x="389" y="312.16" width="2.25" height="9.45"/>
<rect x="392" y="312.16" width="2.25" height="9.45"/>
<rect x="395" y="312.16" width="2.25" height="9.45"/>
<rect x="398" y="312.16" width="2.25" height="9.45"/>
<rect x="401" y="312.16" width="2.25" height="9.45"/>
<rect x="404" y="312.16" width="2.25" height="9.45"/>
<rect x="407" y="312.16" width="2.25" height="9.45"/>
<rect x="410" y="312.16" width="2.25" height="9.45"/>
<rect x="413" y="312.16" width="2.25" height="9.45"/>
<rect x="416" y="312.16" width="2.25" height="9.45"/>
<rect x="419" y="312.16" width="2.25" height="9.45"/>
<rect x="422" y="312.16" width="2.25" height="9.45"/>
<rect x="425" y="312.16" width="2.25" height="9.45"/>
<rect x="428" y="312.16" width="2.25" height="9.45"/>
<rect x="431" y="312.16" width="2.25" height="9.45"/>
<rect x="434" y="312.16" width="2.25" height="9.45"/>
<rect x="437" y="312.16" width="2.8" height="9.45"/>
<rect x="441" y="312.16" width="2.25" height="9.45"/>
<rect x="444" y="312.16" width="2.25" height="9.45"/>
<rect x="447" y="312.16" width="2.25" height="9.45"/>
<rect x="450" y="312.16" width="2.25" height="9.45"/>
<rect x="453" y="312.16" width="2.25" height="9.45"/>
<rect x="456" y="312.16" width="2.25" height="9.45"/>
<rect x="459" y="312.16" width="2.25" height="9.45"/>
<rect x="462" y="312.16" width="2.25" height="9.45"/>
<rect x="465" y="312.16" width="2.25" height="9.45"/>
<rect x="468" y="312.16" width="2.25" height="9.45"/>
<rect x="471" y="312.16" width="2.25" height="9.45"/>
<rect x="474" y="312.16" width="2.25" height="9.45"/>
<rect x="477" y="312.16" width="2.25" height="9.45"/>
<rect x="480" y="312.16" width="2.25" height="9.45"/>
<rect x="483" y="312.16" width="2.25" height="9.45"/>
<rect x="486" y="312.16" width="2.25" height="9.45"/>
<rect x="489" y="312.16" width="2.25" height="9.45"/>
<rect x="492" y="312.16" width="2.25" height="9.45"/>
<rect x="495" y="312.16" width="2.25" height="9.45"/>
<rect x="498" y="312.16" width="2.8" height="9.45"/>
<rect x="502" y="312.16" width="2.25" height="9.45"/>
<rect x="505" y="312.16" width="2.25" height="9.45"/>
<rect x="508" y="312.16" width="2.25" height="9.45"/>
<rect x="511" y="312.16" width="2.25" height="9.45"/>
<rect x="514" y="312.16" width="2.25" height="9.45"/>
<rect x="517" y="312.16" width="2.25" height="9.45"/>
<rect x="520" y="312.16" width="2.25" height="9.45"/>
<rect x="523" y="312.16" width="2.25" height="9.45"/>
<rect x="526" y="312.16" width="2.25" height="9.45"/>
<rect x="529" y="312.16" width="2.25" height="9.45"/>
<rect x="532" y="312.16" width="2.25" height="9.45"/>
<rect x="535" y="312.16" width="2.25" height="9.45"/>
<rect x="538" y="312.16" width="2.25" height="9.45"/>
<rect x="541" y="312.16" width="2.25" height="9.45"/>
<rect x="544" y="312.16" width="2.25" height="9.45"/>
<rect x="547" y="312.16" width="2.25" height="9.45"/>
<rect x="550" y="312.16" width="2.25" height="9.45"/>
<rect x="553" y="312.16" width="2.25" height="9.45"/>
<rect x="556" y="312.16" width="2.25" height="9.45"/>
<rect x="559" y="312.16" width="2.8" height="9.45"/>
<rect x="563" y="312.16" width="2.25" height="9.45"/>
<rect x="566" y="312.16" width="2.25" height="9.45"/>
<rect x="569" y="312.16" width="2.25" height="9.45"/>
<rect x="572" y="312.16" width="2.25" height="9.45"/>
<rect x="575" y="312.16" width="2.25" height="9.45"/>
<rect x="578" y="312.16" width="2.25" height="9.45"/>
<rect x="581" y="312.16" width="2.25" height="9.45"/>
<rect x="584" y="312.16" width="2.25" height="9.45"/>
<rect x="587" y="312.16" width="2.25" height="9.45"/>
<rect x="590" y="312.16" width="2.25" height="9.45"/>
<rect x="593" y="312.16" width="2.25" height="9.45"/>
<rect x="596" y="312.16" width="2.25" height="9.45"/>
<rect x="599" y="312.16" width="2.25" height="9.45"/>
<rect x="602" y="312.16" width="2.25" height="9.45"/>
<rect x="605" y="312.16" width="2.25" height="9.45"/>
<rect x="608" y="312.16" width="2.25" height="9.45"/>
<rect x="611" y="312.16" width="2.25" height="9.45"/>
<rect x="614" y="312.16" width="2.25" height="9.45"/>
<rect x="617" y="312.16" width="2.25" height="9.45"/>
<rect x="620" y="312.16" width="2.8" height="9.45"/>
<rect x="624" y="312.16" width="2.25" height="9.45"/>
<rect x="627" y="312.16" width="2.25" height="9.45"/>
<rect x="630" y="312.16" width="2.25" height="9.45"/>
<rect x="633" y="312.16" width="2.25" height="9.45"/>
<rect x="636" y="312.16" width="2.25" height="9.45"/>
<rect x="639" y="312.16" width="2.25" height="9.45"/>
<rect x="642" y="312.16" width="2.25" height="9.45"/>
<rect x="645" y="312.16" width="2.25" height="9.45"/>
<rect x="648" y="312.16" width="2.25" height="9.45"/>
<rect x="651" y="312.16" width="2.25" height="9.45"/>
<rect x="654" y="312.16" width="2.25" height="9.45"/>
<rect x="657" y="312.16" width="2.25" height="9.45"/>
<rect x="660" y="312.16" width="2.25" height="9.45"/>
<rect x="663" y="312.16" width="2.25" height="9.45"/>
<rect x="666" y="312.16" width="2.25" height="9.45"/>
<rect x="669" y="312.16" width="2.25" height="9.45"/>
<rect x="672" y="312.16" width="2.25" height="9.45"/>
<rect x="675" y="312.16" width="2.25" height="9.45"/>
<rect x="678" y="312.16" width="2.25" height="9.45"/>
<rect x="681" y="312.16" width="2.25" height="9.45"/>
<rect x="684" y="312.16" width="2.8" height="9.45"/>
<rect x="688" y="312.16" width="2.25" height="9.45"/>
<rect x="691" y="312.16" width="2.25" height="9.45"/>
<rect x="694" y="312.16" width="2.25" height="9.45"/>
<rect x="697" y="312.16" width="2.25" height="9.45"/>
<rect x="700" y="312.16" width="2.25" height="9.45"/>
<rect x="703" y="312.16" width="2.25" height="9.45"/>
<rect x="706" y="312.16" width="2.25" height="9.45"/>
</g>
<rect x="215" y="312.16" width="2.25" height="9.45" fill="#f86565"/>
<line x1="494.6" y1="4.3" x2="494.6" y2="323.3" stroke="#6a6a6a" stroke-width="0.8" stroke-dasharray="1.6,1.1"/>
<rect x="97.4" y="4.3" width="611" height="319" fill="none" stroke="#6a6a6a" stroke-width="1"/>
<g stroke="#555" stroke-width="0.8">
<line x1="95" y1="10.45" x2="97.4" y2="10.45"/>
<line x1="95" y1="20.68" x2="97.4" y2="20.68"/>
<line x1="95" y1="30.9" x2="97.4" y2="30.9"/>
<line x1="95" y1="41.13" x2="97.4" y2="41.13"/>
<line x1="95" y1="51.36" x2="97.4" y2="51.36"/>
<line x1="95" y1="61.59" x2="97.4" y2="61.59"/>
<line x1="95" y1="71.81" x2="97.4" y2="71.81"/>
<line x1="95" y1="82.04" x2="97.4" y2="82.04"/>
<line x1="95" y1="92.27" x2="97.4" y2="92.27"/>
<line x1="95" y1="102.49" x2="97.4" y2="102.49"/>
<line x1="95" y1="112.72" x2="97.4" y2="112.72"/>
<line x1="95" y1="122.95" x2="97.4" y2="122.95"/>
<line x1="95" y1="133.17" x2="97.4" y2="133.17"/>
<line x1="95" y1="143.4" x2="97.4" y2="143.4"/>
<line x1="95" y1="153.63" x2="97.4" y2="153.63"/>
<line x1="95" y1="163.85" x2="97.4" y2="163.85"/>
<line x1="95" y1="174.08" x2="97.4" y2="174.08"/>
<line x1="95" y1="184.31" x2="97.4" y2="184.31"/>
<line x1="95" y1="194.54" x2="97.4" y2="194.54"/>
<line x1="95" y1="204.76" x2="97.4" y2="204.76"/>
<line x1="95" y1="214.99" x2="97.4" y2="214.99"/>
<line x1="95" y1="225.22" x2="97.4" y2="225.22"/>
<line x1="95" y1="235.44" x2="97.4" y2="235.44"/>
<line x1="95" y1="245.67" x2="97.4" y2="245.67"/>
<line x1="95" y1="255.9" x2="97.4" y2="255.9"/>
<line x1="95" y1="266.12" x2="97.4" y2="266.12"/>
<line x1="95" y1="276.35" x2="97.4" y2="276.35"/>
<line x1="95" y1="286.58" x2="97.4" y2="286.58"/>
<line x1="95" y1="296.81" x2="97.4" y2="296.81"/>
<line x1="95" y1="307.03" x2="97.4" y2="307.03"/>
<line x1="95" y1="317.26" x2="97.4" y2="317.26"/>
</g>
<text x="94.4" y="14.45" font-size="10.4" text-anchor="end" font-style="italic" stroke="#000" stroke-width="0.2">TET2</text>
<text x="94.39" y="24.68" font-size="10.4" text-anchor="end" font-style="italic" stroke="#000" stroke-width="0.2">DNMT3A</text>
<text x="94.41" y="34.9" font-size="10.4" text-anchor="end" font-style="italic" stroke="#000" stroke-width="0.2">ASXL1</text>
<text x="94.4" y="45.13" font-size="10.4" text-anchor="end" font-style="italic" stroke="#000" stroke-width="0.2">RUNX1</text>
<text x="94.4" y="55.36" font-size="10.4" text-anchor="end" font-style="italic" stroke="#000" stroke-width="0.2">TP53</text>
<text x="94.41" y="65.59" font-size="10.4" text-anchor="end" font-style="italic" stroke="#000" stroke-width="0.2">SRSF2</text>
<text x="94.4" y="75.81" font-size="10.4" text-anchor="end" font-style="italic" stroke="#000" stroke-width="0.2">SF3B1</text>
<text x="94.4" y="86.04" font-size="10.4" text-anchor="end" font-style="italic" stroke="#000" stroke-width="0.2">STAG2</text>
<text x="94.4" y="96.27" font-size="10.4" text-anchor="end" font-style="italic" stroke="#000" stroke-width="0.2">CBL</text>
<text x="94.41" y="106.49" font-size="10.4" text-anchor="end" font-style="italic" stroke="#000" stroke-width="0.2">ZRSR2</text>
<text x="94.41" y="116.72" font-size="10.4" text-anchor="end" font-style="italic" stroke="#000" stroke-width="0.2">EZH2</text>
<text x="94.4" y="126.95" font-size="10.4" text-anchor="end" font-style="italic" stroke="#000" stroke-width="0.2">U2AF1</text>
<text x="94.4" y="137.17" font-size="10.4" text-anchor="end" font-style="italic" stroke="#000" stroke-width="0.2">JAK2</text>
<text x="94.39" y="147.4" font-size="10.4" text-anchor="end" font-style="italic" stroke="#000" stroke-width="0.2">BCOR</text>
<text x="94.41" y="157.63" font-size="10.4" text-anchor="end" font-style="italic" stroke="#000" stroke-width="0.2">IDH1</text>
<text x="94.41" y="167.85" font-size="10.4" text-anchor="end" font-style="italic" stroke="#000" stroke-width="0.2">NRAS</text>
<text x="94.39" y="178.08" font-size="10.4" text-anchor="end" font-style="italic" stroke="#000" stroke-width="0.2">PHF6</text>
<text x="94.41" y="188.31" font-size="10.4" text-anchor="end" font-style="italic" stroke="#000" stroke-width="0.2">IDH2</text>
<text x="94.39" y="198.54" font-size="10.4" text-anchor="end" font-style="italic" stroke="#000" stroke-width="0.2">BCORL1</text>
<text x="94.38" y="208.76" font-size="10.4" text-anchor="end" font-style="italic" stroke="#000" stroke-width="0.2">ETV6</text>
<text x="94.4" y="218.99" font-size="10.4" text-anchor="end" font-style="italic" stroke="#000" stroke-width="0.2">PTPN11</text>
<text x="94.41" y="229.22" font-size="10.4" text-anchor="end" font-style="italic" stroke="#000" stroke-width="0.2">KRAS</text>
<text x="94.41" y="239.44" font-size="10.4" text-anchor="end" font-style="italic" stroke="#000" stroke-width="0.2">ETNK1</text>
<text x="94.39" y="249.67" font-size="10.4" text-anchor="end" font-style="italic" stroke="#000" stroke-width="0.2">NF1</text>
<text x="94.4" y="259.9" font-size="10.4" text-anchor="end" font-style="italic" stroke="#000" stroke-width="0.2">PPM1D</text>
<text x="94.41" y="270.12" font-size="10.4" text-anchor="end" font-style="italic" stroke="#000" stroke-width="0.2">RAD21</text>
<text x="94.4" y="280.35" font-size="10.4" text-anchor="end" font-style="italic" stroke="#000" stroke-width="0.2">SETBP1</text>
<text x="94.4" y="290.58" font-size="10.4" text-anchor="end" font-style="italic" stroke="#000" stroke-width="0.2">FLT3</text>
<text x="94.41" y="300.81" font-size="10.4" text-anchor="end" font-style="italic" stroke="#000" stroke-width="0.2">NPM1</text>
<text x="94.09" y="311.03" font-size="10.4" text-anchor="end" stroke="#000" stroke-width="0.15">No mutation</text>
<text x="94.1" y="321.26" font-size="10.4" text-anchor="end" stroke="#000" stroke-width="0.15">Mutational clonality</text>
<g stroke="#ff1a1a" stroke-width="1.3" fill="none" stroke-linecap="round" stroke-linejoin="round">
<path d="M216.3 5.2 V15.2 M211.9 10.6 L216.3 15.2 L220.7 10.6"/>
<path d="M216.4 335 V325.2 M212 329.8 L216.4 325.2 L220.8 329.8"/>
</g>
<text x="721.9" y="17" font-size="12.6" font-weight="bold">Mutations:</text>
<rect x="722.2" y="24.2" width="7.7" height="7.6" fill="#000"/>
<text x="735" y="31.9" font-size="12.4" stroke="#000" stroke-width="0.15">BM=PB</text>
<rect x="722.2" y="39.5" width="7.7" height="7.6" fill="#a8a8a8"/>
<text x="735" y="47.3" font-size="12.4" stroke="#000" stroke-width="0.15">Discordant</text>
<text x="721.9" y="92" font-size="12.6" font-weight="bold">Clonality:</text>
<rect x="722.2" y="99.2" width="7.7" height="7.6" fill="#b4e1f6"/>
<text x="735" y="106.9" font-size="12.4" stroke="#000" stroke-width="0.15">Concordant</text>
<rect x="722.2" y="114.4" width="7.7" height="7.6" fill="#f86565"/>
<text x="735" y="122.3" font-size="12.4" stroke="#000" stroke-width="0.15">Discordant</text>
<text x="0.6" y="368.4" font-size="18.2" font-weight="bold">B</text>
<circle cx="113.3" cy="370.6" r="3.4" fill="#000"/>
<path fill="#000" d="M108.5 375.2 L118.3 375.2 Q120.3 375.2 120.7 377.2 L122.6 387.5 Q122.8 389 121.3 389.2 Q120 389.3 119.8 388 L118.3 380.5 L118.2 403.6 Q118.2 404.4 117.4 404.4 L114.8 404.4 Q114.1 404.4 114.1 403.6 L114.1 390 L112.8 390 L112.8 403.6 Q112.8 404.4 112 404.4 L109.8 404.4 Q109 404.4 109 403.6 L108.9 380.5 L107.3 388 Q107 389.3 105.8 389.2 Q104.2 389 104.4 387.5 L106.2 377.2 Q106.6 375.2 108.5 375.2 Z"/>
<text x="130.5" y="375" font-size="12.6" font-weight="bold">n = 200 pts</text>
<path d="M185.5 449.5 L185.5 384 A65.5 65.5 0 1 1 133.74 489.65 Z" fill="#bee5f6" stroke="#fff" stroke-width="1.5" stroke-linejoin="round"/>
<path d="M185.5 449.5 L133.74 489.65 A65.5 65.5 0 0 1 132.51 488 Z" fill="#f86565" stroke="#fff" stroke-width="1.5" stroke-linejoin="round"/>
<path d="M185.5 449.5 L132.51 488 A65.5 65.5 0 0 1 185.5 384 Z" fill="#bee5f6" stroke="#fff" stroke-width="1.5" stroke-linejoin="round"/>
<text x="140.3" y="435.9" font-size="9.8" stroke="#000" stroke-width="0.15">BM-PB-</text>
<text x="141" y="451.6" font-size="9.8" stroke="#000" stroke-width="0.15">70; 35%</text>
<text x="188.8" y="475.4" font-size="9.8" stroke="#000" stroke-width="0.15">BM+PB+</text>
<text x="186.3" y="489.4" font-size="9.8" stroke="#000" stroke-width="0.15">129; 64.5%</text>
<text x="128.21" y="499.9" font-size="9.8" text-anchor="end" stroke="#000" stroke-width="0.15">BM+PB-</text>
<text x="127.29" y="511.9" font-size="9.8" text-anchor="end" stroke="#000" stroke-width="0.15">1; 0.5%</text>
<polyline points="128.2,505.8 129.2,505.8 132,487.2" fill="none" stroke="#777" stroke-width="0.6"/>
<g fill="none" stroke="#000" stroke-width="1.4" stroke-linecap="round">
<polyline points="353.46,369.2 353.5,369.79 353.45,370.38 353.31,370.97 353.09,371.56 352.78,372.15 352.4,372.74 351.94,373.33 351.41,373.92 350.82,374.51 350.17,375.1 349.48,375.69 348.75,376.28 347.99,376.87 347.22,377.46 346.43,378.05 345.65,378.64 344.88,379.23 344.12,379.82 343.4,380.41 342.72,381 342.08,381.59 341.5,382.18 340.98,382.77 340.53,383.36 340.16,383.95 339.87,384.54 339.66,385.13 339.54,385.72 339.5,386.31 339.55,386.9 339.69,387.49 339.92,388.08 340.23,388.67 340.62,389.26 341.08,389.85 341.61,390.44 342.2,391.03 342.85,391.62 343.54,392.21 344.27,392.8 345.03,393.39 345.81,393.98 346.59,394.57 347.38,395.16 348.15,395.75 348.9,396.34 349.62,396.93 350.31,397.52 350.94,398.11 351.52,398.7 352.04,399.29 352.48,399.88 352.85,400.47 353.14,401.06 353.35,401.65 353.47,402.24 353.5,402.83 353.44,403.42 353.3,404.01 353.07,404.6"/>
<polyline points="339.54,369.2 339.5,369.79 339.55,370.38 339.69,370.97 339.91,371.56 340.22,372.15 340.6,372.74 341.06,373.33 341.59,373.92 342.18,374.51 342.83,375.1 343.52,375.69 344.25,376.28 345.01,376.87 345.78,377.46 346.57,378.05 347.35,378.64 348.12,379.23 348.88,379.82 349.6,380.41 350.28,381 350.92,381.59 351.5,382.18 352.02,382.77 352.47,383.36 352.84,383.95 353.13,384.54 353.34,385.13 353.46,385.72 353.5,386.31 353.45,386.9 353.31,387.49 353.08,388.08 352.77,388.67 352.38,389.26 351.92,389.85 351.39,390.44 350.8,391.03 350.15,391.62 349.46,392.21 348.73,392.8 347.97,393.39 347.19,393.98 346.41,394.57 345.62,395.16 344.85,395.75 344.1,396.34 343.38,396.93 342.69,397.52 342.06,398.11 341.48,398.7 340.96,399.29 340.52,399.88 340.15,400.47 339.86,401.06 339.65,401.65 339.53,402.24 339.5,402.83 339.56,403.42 339.7,404.01 339.93,404.6"/>
<line x1="339.81" y1="369.5" x2="353.19" y2="369.5" stroke-width="1"/>
<line x1="341.51" y1="373.5" x2="351.49" y2="373.5" stroke-width="1"/>
<line x1="342.47" y1="381.5" x2="350.53" y2="381.5" stroke-width="1"/>
<line x1="339.87" y1="385.5" x2="353.13" y2="385.5" stroke-width="1"/>
<line x1="341.97" y1="390.5" x2="351.03" y2="390.5" stroke-width="1"/>
<line x1="341.97" y1="398.5" x2="351.03" y2="398.5" stroke-width="1"/>
<line x1="339.81" y1="402.5" x2="353.19" y2="402.5" stroke-width="1"/>
</g>
<text x="364.4" y="375.1" font-size="12.72" font-weight="bold">n = 364 mutations in 130 pts</text>
<path d="M402.55 463.4 L373.55 476.92 A65.6 65.6 0 1 1 385.02 493.94 L408.43 472.12 A33.6 33.6 0 1 0 402.55 463.4 Z" fill="#bee5f6" stroke="#fff" stroke-width="0.9" stroke-linejoin="round"/>
<path d="M408.43 472.12 L385.02 493.94 A65.6 65.6 0 0 1 375.3 480.4 L403.44 465.18 A33.6 33.6 0 0 0 408.43 472.12 Z" fill="#f86565" stroke="#fff" stroke-width="0.9" stroke-linejoin="round"/>
<path d="M403.17 464.66 L374.76 479.39 A65.6 65.6 0 0 1 373.79 477.44 L402.67 463.67 A33.6 33.6 0 0 0 403.17 464.66 Z" fill="#f86565" stroke="#fff" stroke-width="0.7" stroke-linejoin="round"/>
<text x="456.2" y="417.1" font-size="9.8" stroke="#000" stroke-width="0.15">BM=PB;</text>
<text x="454" y="428.9" font-size="9.8" stroke="#000" stroke-width="0.15">347; 95%</text>
<text x="347.8" y="462" font-size="9.8" text-anchor="middle" stroke="#000" stroke-width="0.15">PB only;</text>
<text x="347.8" y="473.7" font-size="9.8" text-anchor="middle" stroke="#000" stroke-width="0.15">2; 1%</text>
<text x="347.6" y="497.7" font-size="9.8" text-anchor="middle" stroke="#000" stroke-width="0.15">BM only;</text>
<text x="347.6" y="508.8" font-size="9.8" text-anchor="middle" stroke="#000" stroke-width="0.15">15; 4%</text>
<text x="407.3" y="472.1" font-size="10.1" font-weight="bold" fill="#f06464">VAF&lt;13%</text>
<g fill="none" stroke="#777" stroke-width="0.6">
<polyline points="372.5,464.3 377.7,464.3 389,472.5"/>
<polyline points="371,499.2 376.2,499.2 392.7,478.6"/>
</g>
<rect x="545.9" y="376.2" width="7.9" height="7.9" fill="#bee5f6"/>
<text x="558.3" y="384.4" font-size="12.7" stroke="#000" stroke-width="0.15">Concordant</text>
<rect x="545.9" y="391.5" width="7.9" height="7.9" fill="#f86565"/>
<text x="558.3" y="399.6" font-size="12.7" stroke="#000" stroke-width="0.15">Discordant</text>
<text x="0.2" y="572.4" font-size="18.6" font-weight="bold">C</text>
<rect x="61.4" y="582.0" width="121.6" height="163.4" fill="none" stroke="#a8a8a8" stroke-width="1"/>
<line x1="61.4" y1="582.0" x2="183.0" y2="582.0" stroke="#8c8c8c" stroke-width="1"/>
<line x1="60" y1="745.4" x2="183.0" y2="745.4" stroke="#555" stroke-width="1"/>
<line x1="59.6" y1="745.4" x2="61.4" y2="745.4" stroke="#777" stroke-width="0.8"/>
<text x="58.91" y="749.4" font-size="9.7" text-anchor="end" stroke="#000" stroke-width="0.15">0</text>
<line x1="59.6" y1="714.33" x2="61.4" y2="714.33" stroke="#777" stroke-width="0.8"/>
<text x="58.9" y="718.33" font-size="9.7" text-anchor="end" stroke="#000" stroke-width="0.15">20</text>
<line x1="59.6" y1="683.26" x2="61.4" y2="683.26" stroke="#777" stroke-width="0.8"/>
<text x="58.9" y="687.26" font-size="9.7" text-anchor="end" stroke="#000" stroke-width="0.15">40</text>
<line x1="59.6" y1="652.19" x2="61.4" y2="652.19" stroke="#777" stroke-width="0.8"/>
<text x="58.9" y="656.19" font-size="9.7" text-anchor="end" stroke="#000" stroke-width="0.15">60</text>
<line x1="59.6" y1="621.12" x2="61.4" y2="621.12" stroke="#777" stroke-width="0.8"/>
<text x="58.9" y="625.12" font-size="9.7" text-anchor="end" stroke="#000" stroke-width="0.15">80</text>
<line x1="59.6" y1="590.05" x2="61.4" y2="590.05" stroke="#777" stroke-width="0.8"/>
<text x="58.91" y="594.05" font-size="9.7" text-anchor="end" stroke="#000" stroke-width="0.15">100</text>
<text transform="translate(38.4,663.5) rotate(-90)" font-size="10.6" text-anchor="middle" fill="#000">VAF [%]</text>
<text x="179.5" y="594.6" font-size="10.2" text-anchor="end" stroke="#000" stroke-width="0.15"><tspan font-style="italic">p</tspan>&lt;0.001</text>
<g stroke="#3a3a3a" stroke-width="1">
<line x1="94.6" y1="636.4" x2="94.6" y2="744.5"/>
<line x1="89.2" y1="636.4" x2="100" y2="636.4"/>
<line x1="89.2" y1="744.6" x2="100" y2="744.6"/>
<line x1="149.6" y1="667.4" x2="149.6" y2="745"/>
<line x1="144.3" y1="667.4" x2="155" y2="667.4"/>
</g>
<rect x="83.6" y="691.1" width="22" height="44.7" fill="#74a6d8" stroke="#4f6f93" stroke-width="0.7"/>
<line x1="83.6" y1="714.2" x2="105.6" y2="714.2" stroke="#000" stroke-width="1.6"/>
<rect x="138.8" y="709.4" width="21.8" height="30.3" fill="#ee3238" stroke="#9a2226" stroke-width="0.7"/>
<line x1="138.8" y1="726.4" x2="160.6" y2="726.4" stroke="#000" stroke-width="1.6"/>
<g fill="#86acd8" stroke="#3a659c" stroke-width="0.75">
<circle cx="94.5" cy="596.1" r="1.3"/>
<circle cx="94.5" cy="603.3" r="1.3"/>
<circle cx="94.5" cy="612.4" r="1.3"/>
<circle cx="94.5" cy="614.2" r="1.3"/>
<circle cx="94.5" cy="616.0" r="1.3"/>
<circle cx="94.5" cy="617.8" r="1.3"/>
<circle cx="94.5" cy="619.6" r="1.3"/>
<circle cx="94.5" cy="621.4" r="1.3"/>
<circle cx="94.5" cy="623.2" r="1.3"/>
</g>
<g fill="#d82028" stroke="#8a1418" stroke-width="0.6">
<circle cx="149.6" cy="621.2" r="1.35"/>
<circle cx="149.6" cy="634.8" r="1.35"/>
<circle cx="149.6" cy="639.8" r="1.35"/>
<circle cx="149.6" cy="643.9" r="1.35"/>
<circle cx="149.6" cy="646.4" r="1.35"/>
<circle cx="149.6" cy="651.9" r="1.35"/>
<circle cx="149.6" cy="656.6" r="1.35"/>
<circle cx="149.6" cy="658.4" r="1.35"/>
<circle cx="149.6" cy="616.6" r="0.6"/>
</g>
<g stroke="#666" stroke-width="0.8"><line x1="94.6" y1="745.4" x2="94.6" y2="747.6"/><line x1="149.6" y1="745.4" x2="149.6" y2="747.6"/></g>
<text x="91.6" y="757.6" font-size="10.2" text-anchor="middle" stroke="#000" stroke-width="0.15">BM</text>
<text x="92.51" y="770.5" font-size="10.5" text-anchor="middle" stroke="#000" stroke-width="0.15">n=362</text>
<text x="150.49" y="757.6" font-size="10.2" text-anchor="middle" stroke="#000" stroke-width="0.15">PB</text>
<text x="147.81" y="770.5" font-size="10.5" text-anchor="middle" stroke="#000" stroke-width="0.15">n=349</text>
<rect x="245.7" y="582.2" width="345.3" height="175.2" fill="none" stroke="#a8a8a8" stroke-width="1"/>
<line x1="245.7" y1="582.2" x2="591.0" y2="582.2" stroke="#8c8c8c" stroke-width="1"/>
<line x1="245.7" y1="757.4" x2="591.0" y2="757.4" stroke="#555" stroke-width="1"/>
<line x1="242.6" y1="757.4" x2="245.7" y2="757.4" stroke="#777" stroke-width="0.8"/>
<text x="241.41" y="761.1" font-size="9.7" text-anchor="end" stroke="#000" stroke-width="0.15">0</text>
<line x1="242.6" y1="731.1" x2="245.7" y2="731.1" stroke="#777" stroke-width="0.8"/>
<text x="241.4" y="734.8" font-size="9.7" text-anchor="end" stroke="#000" stroke-width="0.15">10</text>
<line x1="242.6" y1="704.8" x2="245.7" y2="704.8" stroke="#777" stroke-width="0.8"/>
<text x="241.4" y="708.5" font-size="9.7" text-anchor="end" stroke="#000" stroke-width="0.15">20</text>
<line x1="242.6" y1="678.5" x2="245.7" y2="678.5" stroke="#777" stroke-width="0.8"/>
<text x="241.4" y="682.2" font-size="9.7" text-anchor="end" stroke="#000" stroke-width="0.15">30</text>
<line x1="242.6" y1="652.2" x2="245.7" y2="652.2" stroke="#777" stroke-width="0.8"/>
<text x="241.4" y="655.9" font-size="9.7" text-anchor="end" stroke="#000" stroke-width="0.15">40</text>
<line x1="242.6" y1="625.9" x2="245.7" y2="625.9" stroke="#777" stroke-width="0.8"/>
<text x="241.4" y="629.6" font-size="9.7" text-anchor="end" stroke="#000" stroke-width="0.15">50</text>
<line x1="242.6" y1="599.6" x2="245.7" y2="599.6" stroke="#777" stroke-width="0.8"/>
<text x="241.4" y="603.3" font-size="9.7" text-anchor="end" stroke="#000" stroke-width="0.15">60</text>
<text transform="translate(225.6,677.2) rotate(-90)" font-size="10.9" text-anchor="middle" fill="#000">Number of mutations</text>
<rect x="263.2" y="752.14" width="10.35" height="5.26" fill="#f88484" stroke="#fff" stroke-width="0.7"/>
<rect x="263.2" y="741.62" width="10.35" height="10.52" fill="#78a8dc" stroke="#fff" stroke-width="0.7"/>
<rect x="263.2" y="654.83" width="10.35" height="86.79" fill="#000" stroke="#fff" stroke-width="0.7"/>
<rect x="273.55" y="736.36" width="10.35" height="21.04" fill="#78a8dc" stroke="#fff" stroke-width="0.7"/>
<rect x="273.55" y="610.12" width="10.35" height="126.24" fill="#000" stroke="#fff" stroke-width="0.7"/>
<rect x="283.9" y="752.14" width="10.35" height="5.26" fill="#78a8dc" stroke="#fff" stroke-width="0.7"/>
<rect x="283.9" y="707.43" width="10.35" height="44.71" fill="#000" stroke="#fff" stroke-width="0.7"/>
<rect x="294.25" y="754.77" width="10.35" height="2.63" fill="#78a8dc" stroke="#fff" stroke-width="0.7"/>
<rect x="294.25" y="696.91" width="10.35" height="57.86" fill="#000" stroke="#fff" stroke-width="0.7"/>
<rect x="304.6" y="691.65" width="10.35" height="65.75" fill="#000" stroke="#fff" stroke-width="0.7"/>
<rect x="314.95" y="712.69" width="10.35" height="44.71" fill="#000" stroke="#fff" stroke-width="0.7"/>
<rect x="325.3" y="723.21" width="10.35" height="34.19" fill="#000" stroke="#fff" stroke-width="0.7"/>
<rect x="335.65" y="725.84" width="10.35" height="31.56" fill="#000" stroke="#fff" stroke-width="0.7"/>
<rect x="346" y="710.06" width="10.35" height="47.34" fill="#000" stroke="#fff" stroke-width="0.7"/>
<rect x="356.35" y="691.65" width="10.35" height="65.75" fill="#000" stroke="#fff" stroke-width="0.7"/>
<rect x="366.7" y="675.87" width="10.35" height="81.53" fill="#000" stroke="#fff" stroke-width="0.7"/>
<rect x="377.05" y="707.43" width="10.35" height="49.97" fill="#000" stroke="#fff" stroke-width="0.7"/>
<rect x="387.4" y="710.06" width="10.35" height="47.34" fill="#000" stroke="#fff" stroke-width="0.7"/>
<rect x="397.75" y="717.95" width="10.35" height="39.45" fill="#000" stroke="#fff" stroke-width="0.7"/>
<rect x="408.1" y="741.62" width="10.35" height="15.78" fill="#000" stroke="#fff" stroke-width="0.7"/>
<rect x="418.45" y="752.14" width="10.35" height="5.26" fill="#000" stroke="#fff" stroke-width="0.7"/>
<rect x="428.8" y="744.25" width="10.35" height="13.15" fill="#000" stroke="#fff" stroke-width="0.7"/>
<rect x="439.15" y="754.77" width="10.35" height="2.63" fill="#000" stroke="#fff" stroke-width="0.7"/>
<rect x="449.5" y="749.51" width="10.35" height="7.89" fill="#000" stroke="#fff" stroke-width="0.7"/>
<rect x="459.85" y="754.77" width="10.35" height="2.63" fill="#000" stroke="#fff" stroke-width="0.7"/>
<rect x="470.2" y="749.51" width="10.35" height="7.89" fill="#000" stroke="#fff" stroke-width="0.7"/>
<rect x="480.55" y="752.14" width="10.35" height="5.26" fill="#000" stroke="#fff" stroke-width="0.7"/>
<rect x="511.6" y="749.51" width="10.35" height="7.89" fill="#000" stroke="#fff" stroke-width="0.7"/>
<rect x="521.95" y="746.88" width="10.35" height="10.52" fill="#000" stroke="#fff" stroke-width="0.7"/>
<rect x="532.3" y="752.14" width="10.35" height="5.26" fill="#000" stroke="#fff" stroke-width="0.7"/>
<rect x="553" y="754.77" width="10.35" height="2.63" fill="#000" stroke="#fff" stroke-width="0.7"/>
<rect x="563.35" y="754.77" width="10.35" height="2.63" fill="#000" stroke="#fff" stroke-width="0.7"/>
<line x1="245.7" y1="757.4" x2="591.0" y2="757.4" stroke="#555" stroke-width="1"/>
<g stroke="#555" stroke-width="0.8">
<line x1="263.6" y1="757.4" x2="263.6" y2="760.4"/>
<line x1="284.3" y1="757.4" x2="284.3" y2="760.4"/>
<line x1="305" y1="757.4" x2="305" y2="760.4"/>
<line x1="325.7" y1="757.4" x2="325.7" y2="760.4"/>
<line x1="346.4" y1="757.4" x2="346.4" y2="760.4"/>
<line x1="367.1" y1="757.4" x2="367.1" y2="760.4"/>
<line x1="387.8" y1="757.4" x2="387.8" y2="760.4"/>
<line x1="408.5" y1="757.4" x2="408.5" y2="760.4"/>
<line x1="429.2" y1="757.4" x2="429.2" y2="760.4"/>
<line x1="449.9" y1="757.4" x2="449.9" y2="760.4"/>
<line x1="470.6" y1="757.4" x2="470.6" y2="760.4"/>
<line x1="491.3" y1="757.4" x2="491.3" y2="760.4"/>
<line x1="512" y1="757.4" x2="512" y2="760.4"/>
<line x1="532.7" y1="757.4" x2="532.7" y2="760.4"/>
<line x1="553.4" y1="757.4" x2="553.4" y2="760.4"/>
<line x1="574.1" y1="757.4" x2="574.1" y2="760.4"/>
</g>
<text x="263.61" y="769.5" font-size="9.7" text-anchor="middle" stroke="#000" stroke-width="0.15">0</text>
<text x="284.31" y="769.5" font-size="9.7" text-anchor="middle" stroke="#000" stroke-width="0.15">7</text>
<text x="305" y="769.5" font-size="9.7" text-anchor="middle" stroke="#000" stroke-width="0.15">13</text>
<text x="325.7" y="769.5" font-size="9.7" text-anchor="middle" stroke="#000" stroke-width="0.15">20</text>
<text x="346.4" y="769.5" font-size="9.7" text-anchor="middle" stroke="#000" stroke-width="0.15">26</text>
<text x="367.1" y="769.5" font-size="9.7" text-anchor="middle" stroke="#000" stroke-width="0.15">33</text>
<text x="387.8" y="769.5" font-size="9.7" text-anchor="middle" stroke="#000" stroke-width="0.15">39</text>
<text x="408.5" y="769.5" font-size="9.7" text-anchor="middle" stroke="#000" stroke-width="0.15">46</text>
<text x="429.2" y="769.5" font-size="9.7" text-anchor="middle" stroke="#000" stroke-width="0.15">52</text>
<text x="449.9" y="769.5" font-size="9.7" text-anchor="middle" stroke="#000" stroke-width="0.15">59</text>
<text x="470.6" y="769.5" font-size="9.7" text-anchor="middle" stroke="#000" stroke-width="0.15">65</text>
<text x="491.3" y="769.5" font-size="9.7" text-anchor="middle" stroke="#000" stroke-width="0.15">72</text>
<text x="512" y="769.5" font-size="9.7" text-anchor="middle" stroke="#000" stroke-width="0.15">78</text>
<text x="532.7" y="769.5" font-size="9.7" text-anchor="middle" stroke="#000" stroke-width="0.15">85</text>
<text x="553.4" y="769.5" font-size="9.7" text-anchor="middle" stroke="#000" stroke-width="0.15">91</text>
<text x="574.1" y="769.5" font-size="9.7" text-anchor="middle" stroke="#000" stroke-width="0.15">98</text>
<text x="400.6" y="780.7" font-size="10.6" text-anchor="middle" stroke="#000" stroke-width="0.15">VAF [%]</text>
<rect x="480.9" y="592.4" width="6.6" height="6.6" fill="#000"/>
<text x="491.9" y="599" font-size="10.9" stroke="#000" stroke-width="0.15">BM=PB (n=347)</text>
<rect x="480.9" y="606" width="6.6" height="6.6" fill="#4a7fd0"/>
<text x="491.9" y="612.6" font-size="10.9" stroke="#000" stroke-width="0.15">BM only (n=15)</text>
<rect x="480.9" y="619.2" width="6.6" height="6.6" fill="#f87878"/>
<text x="491.9" y="625.9" font-size="10.9" stroke="#000" stroke-width="0.15">PB only (n=2)</text>
</svg>
</body></html>
